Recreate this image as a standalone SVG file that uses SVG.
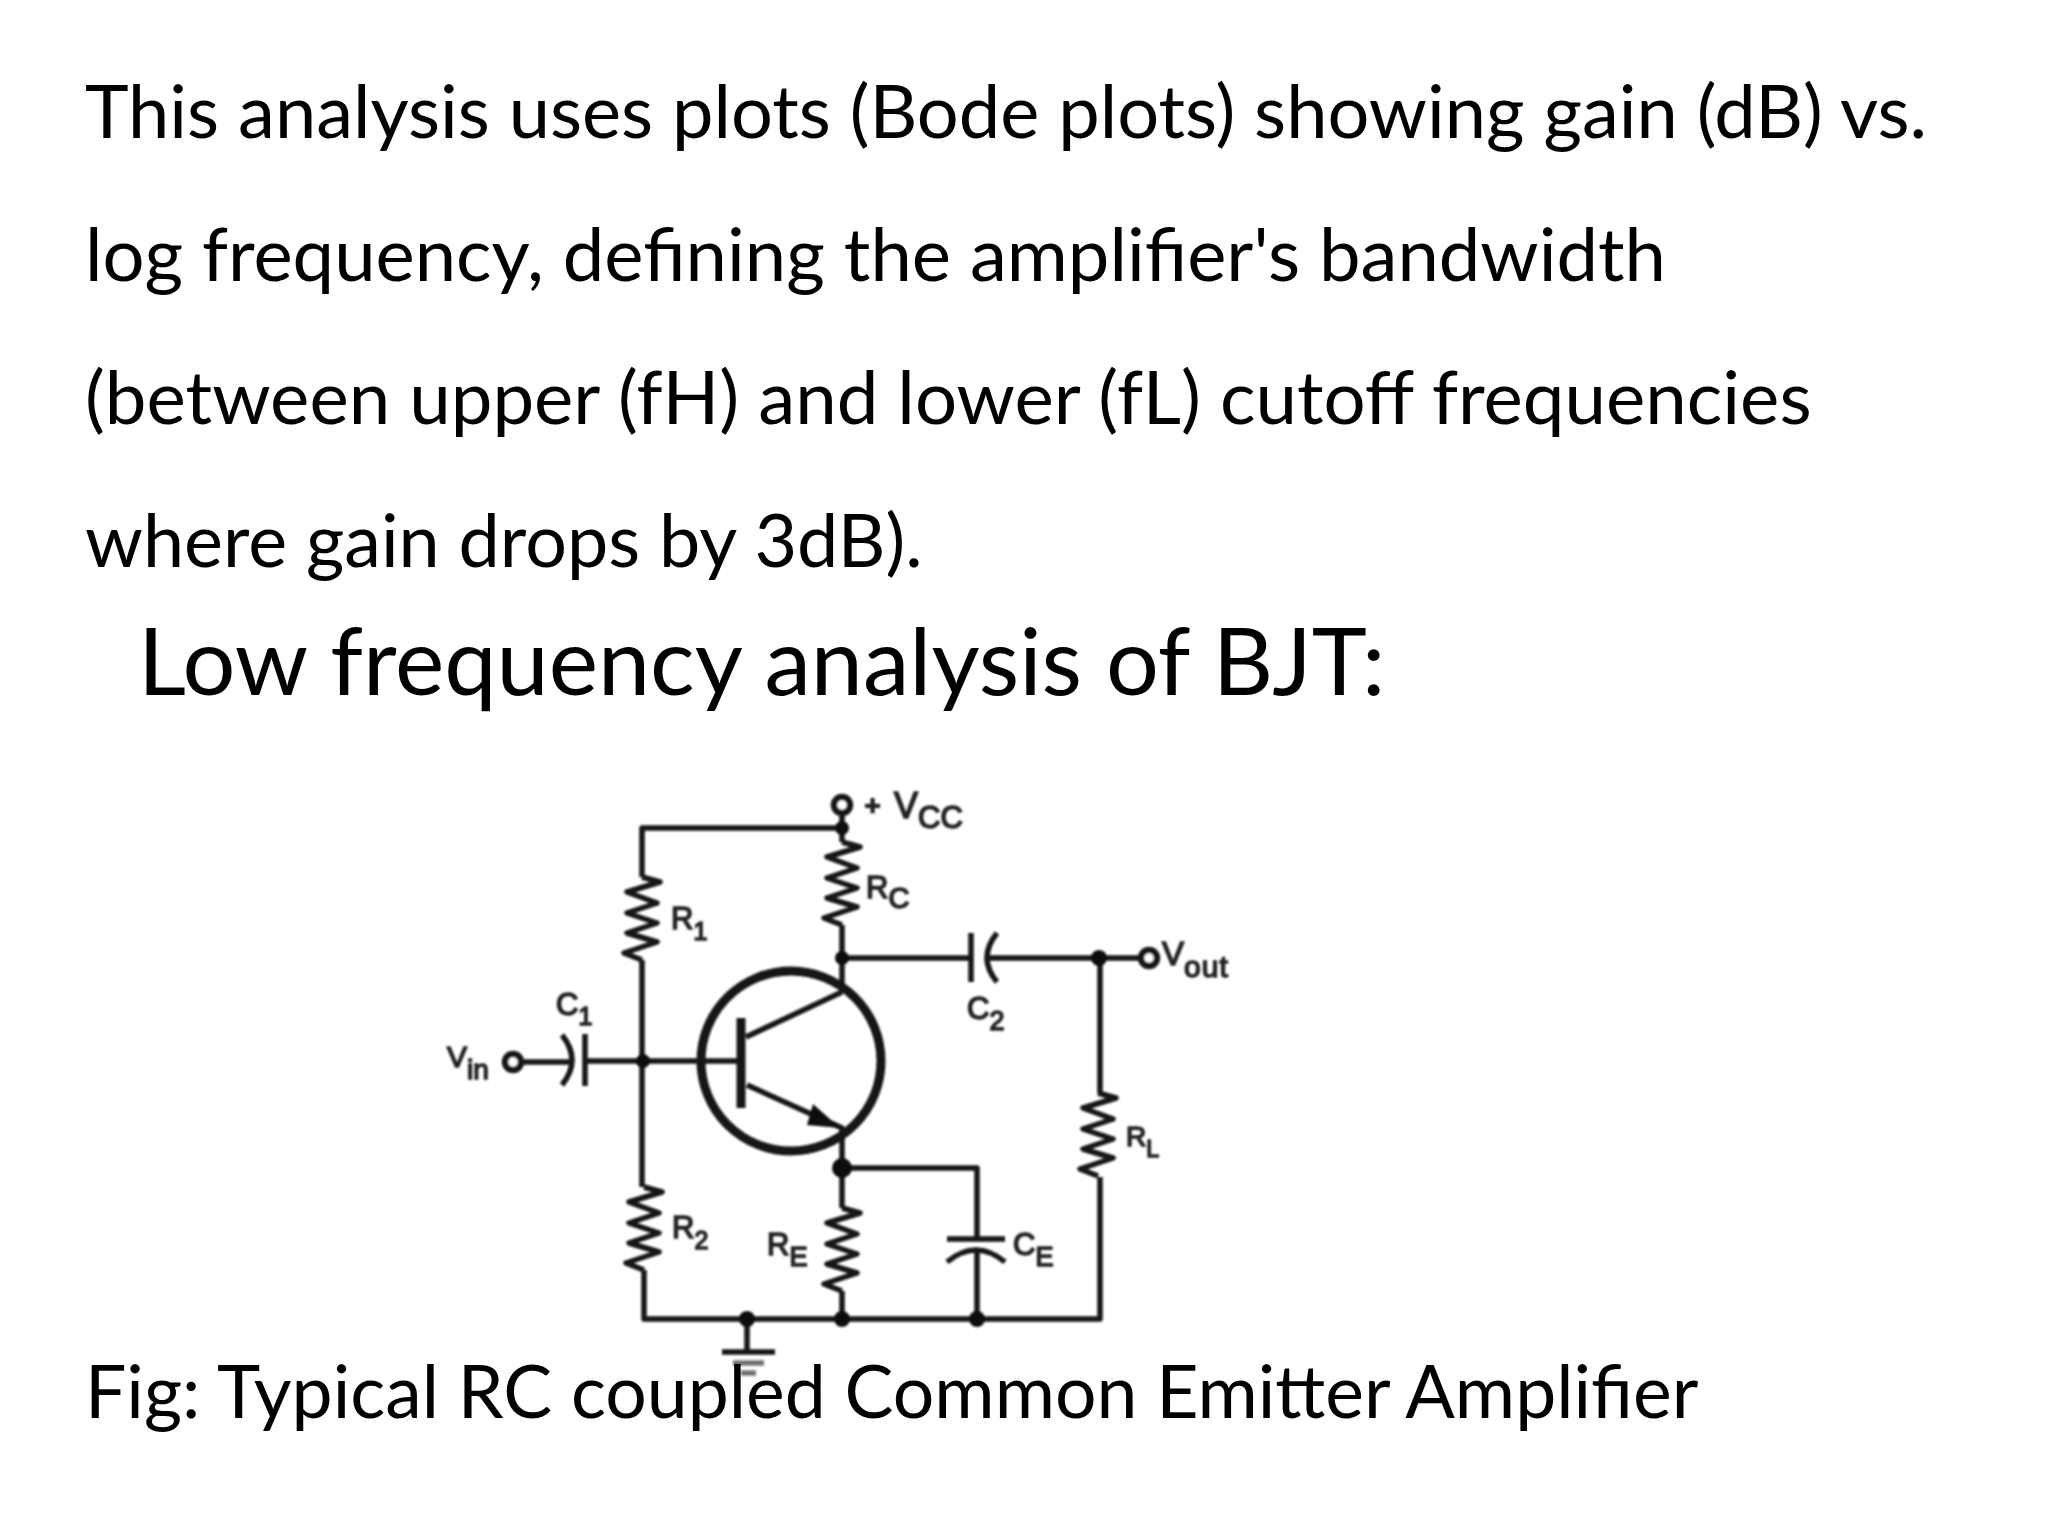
<svg xmlns="http://www.w3.org/2000/svg" width="2048" height="1536" viewBox="0 0 2048 1536">
<style>
.t{font-family:Lato,"Carlito","Liberation Sans",sans-serif;fill:#000;font-size:74px}
.w{fill:none;stroke:#151515;stroke-width:5.5;stroke-linejoin:round}
.th{stroke-width:9}
.j{fill:#111}
.o{fill:#fff;stroke:#151515;stroke-width:6.5}
.l{font-family:"Liberation Sans",Arial,sans-serif;fill:#222;font-size:31px;stroke:#222;stroke-width:1.6}
.s{font-size:25px}
</style>
<defs>
<path id="zig" class="w" d="M0 0L18 5L-15 15L15 26L-15 36L15 46L-15 56L15 65L-18 76L0 83"/>
<filter id="b" x="-5%" y="-5%" width="110%" height="110%"><feGaussianBlur stdDeviation="0.9"/></filter>
</defs>
<rect width="2048" height="1536" fill="#fff"/>
<g id="body-text">
<text class="t" x="85" y="138">This analysis uses plots (Bode plots) showing gain (dB) vs.</text>
<text class="t" style="font-size:74.2px" x="85" y="281">log frequency, defining the amplifier's bandwidth</text>
<text class="t" style="font-size:74.4px" x="85" y="424">(between upper (fH) and lower (fL) cutoff frequencies</text>
<text class="t" style="font-size:73.7px" x="85" y="567">where gain drops by 3dB).</text>
<text class="t" style="font-size:93.4px" x="138" y="695">Low frequency analysis of BJT:</text>
</g>
<g filter="url(#b)">
<g id="connectors">
<path class="w" d="M842 814V842M842 828H642V877M642 960V1187M644 1270V1319H1100V1177M1100 1093V958M842 925V992M842 958H971M987 958H1140"/>
<path class="w" d="M522 1062H571M585 1061H741"/>
<path class="w" d="M746 1037L842 992M747 1085L842 1128V1208M842 1168H977V1239M977 1250V1319M842 1291V1319M747 1319V1352"/>
<path class="w" d="M722 1352H775"/>
<path class="w" d="M733 1363H764M741 1373H756" stroke-opacity=".6"/>
</g>
<g id="Q1">
<circle class="w th" cx="791" cy="1061" r="90"/>
<path class="w" style="stroke-width:9" d="M741 1018V1108"/>
<path class="j" d="M813 1104L840 1128L807 1125Z"/>
</g>
<g id="R1"><use href="#zig" x="642" y="877"/><text class="l" x="671" y="929">R<tspan class="s" dy="11">1</tspan></text></g>
<g id="R2"><use href="#zig" x="644" y="1187"/><text class="l" x="672" y="1238">R<tspan class="s" dy="11">2</tspan></text></g>
<g id="RC"><use href="#zig" x="842" y="842"/><text class="l" x="866" y="898">R<tspan class="s" style="font-size:29px" dy="10">C</tspan></text></g>
<g id="RE"><use href="#zig" x="842" y="1208"/><text class="l" x="767" y="1255">R<tspan class="s" style="font-size:27px" dy="11">E</tspan></text></g>
<g id="RL"><use href="#zig" x="1098" y="1093"/><text class="l" style="font-size:28px" x="1126" y="1146">R<tspan class="s" style="font-size:23px" dy="11">L</tspan></text></g>
<g id="C1"><path class="w" d="M562 1035Q582 1060 562 1085M585 1034V1086"/><text class="l" x="556" y="1015">C<tspan class="s" dy="10">1</tspan></text></g>
<g id="C2"><path class="w" d="M971 933V982M997 933Q977 958 997 982"/><text class="l" x="967" y="1019">C<tspan class="s" style="font-size:27px" dy="11">2</tspan></text></g>
<g id="CE"><path class="w" d="M947 1239H1005M947 1262Q976 1238 1005 1262"/><text class="l" x="1013" y="1255">C<tspan class="s" style="font-size:27px" dy="11">E</tspan></text></g>
<g id="VCC"><circle class="o" cx="842" cy="805" r="8"/><text class="l" style="font-size:26px;stroke-width:2.4" x="865" y="814">+</text><text class="l" style="font-size:36px" x="894" y="818">V<tspan style="font-size:31px" dy="10">CC</tspan></text></g>
<g id="Vin"><circle class="o" cx="513" cy="1062" r="8"/><text class="l" style="font-size:30px" x="447" y="1067">V<tspan class="s" style="font-size:28px" dy="12">in</tspan></text></g>
<g id="Vout"><circle class="o" cx="1149" cy="958" r="8"/><text class="l" style="font-size:33px" x="1162" y="965">V<tspan style="font-size:30px;letter-spacing:1px" dy="12">out</tspan></text></g>
<g id="junctions" class="j">
<circle cx="842" cy="828" r="7"/><circle cx="842" cy="958" r="7"/><circle cx="1099" cy="958" r="8"/><circle cx="643" cy="1061" r="7"/><circle cx="842" cy="1168" r="10"/><circle cx="747" cy="1319" r="8"/><circle cx="842" cy="1319" r="8"/><circle cx="977" cy="1319" r="8"/>
</g>
</g>
<g id="caption"><text class="t" style="font-size:73.3px" x="85" y="1418">Fig: Typical RC coupled Common Emitter Amplifier</text></g>
</svg>
